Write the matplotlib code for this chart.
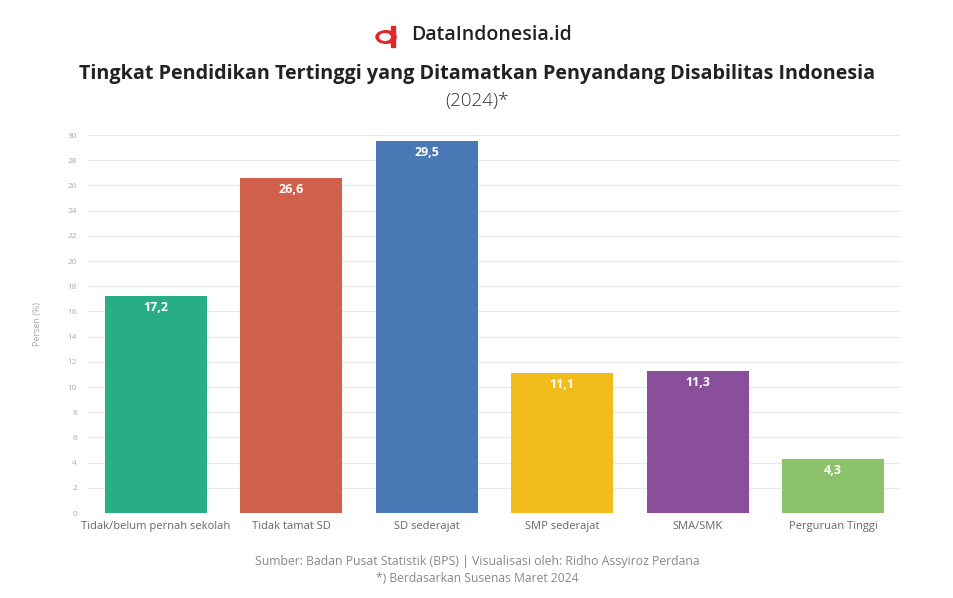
import matplotlib
matplotlib.use("Agg")
import matplotlib.pyplot as plt
from matplotlib.patches import Circle

categories = ["Tidak/belum pernah sekolah", "Tidak tamat SD", "SD sederajat",
              "SMP sederajat", "SMA/SMK", "Perguruan Tinggi"]
values = [17.2, 26.6, 29.5, 11.1, 11.3, 4.3]
colors = ["#27AE85", "#D1604D", "#4A78B5", "#F2BC1C", "#8A4F9B", "#8BC26B"]
yticks = list(range(0, 31, 2))

plt.rcParams['font.family'] = ['Open Sans', 'DejaVu Sans']

fig = plt.figure(figsize=(9.54, 5.98), dpi=100)
ax = fig.add_axes([88/954, 85/598, 813/954, 378/598])

x = list(range(len(categories)))
ax.bar(x, values, width=0.75, color=colors, zorder=3)
for xi, v in zip(x, values):
    ax.text(xi, v - 0.4, f"{v:.1f}".replace(".", ","), ha="center", va="top",
            color="white", fontsize=9, fontweight="bold", zorder=4)

ax.set_xlim(-0.5, 5.5)
ax.set_ylim(0, 30)
ax.set_yticks(yticks)
ax.set_yticklabels([str(t) for t in yticks], fontsize=6, color="#aaaaaa")
ax.set_xticks(x)
ax.set_xticklabels(categories, fontsize=8, color="#666666")
ax.tick_params(axis="both", length=0, pad=8)
ax.tick_params(axis="x", pad=6)
ax.grid(axis="y", color="#e8e8e8", linewidth=0.8, zorder=0)
for s in ax.spines.values():
    s.set_visible(False)
ax.set_ylabel("Persen (%)", fontsize=6.5, color="#aaaaaa", labelpad=18)

# header
fig.text(0.5, 1 - 74/598, "Tingkat Pendidikan Tertinggi yang Ditamatkan Penyandang Disabilitas Indonesia",
         ha="center", va="center", fontsize=14.2, fontweight="bold", color="#222222")
fig.text(0.5, 1 - 101/598, "(2024)*", ha="center", va="center", fontsize=13.5,
         fontweight="light", color="#333333")
fig.text(411/954, 1 - 35/598, "DataIndonesia.id", ha="left", va="center", fontsize=14,
         color="#222222", fontweight="semibold")
# logo icon
fig.patches.append(Circle((386/954, 1 - 37/598), 0.0105, transform=fig.transFigure,
                          color="#E32626", zorder=5))
fig.patches.append(Circle((385/954, 1 - 37/598), 0.0055, transform=fig.transFigure,
                          color="white", zorder=6))
fig.patches.append(plt.Rectangle((391/954, 1 - 47/598), 0.004, 0.035, transform=fig.transFigure,
                                 color="#E32626", zorder=5))

# footer
fig.text(0.5, 1 - 562/598, "Sumber: Badan Pusat Statistik (BPS) | Visualisasi oleh: Ridho Assyiroz Perdana",
         ha="center", va="center", fontsize=8.8, color="#888888")
fig.text(0.5, 1 - 578/598, "*) Berdasarkan Susenas Maret 2024",
         ha="center", va="center", fontsize=8.7, color="#888888")

fig.savefig("out.png", dpi=100)
